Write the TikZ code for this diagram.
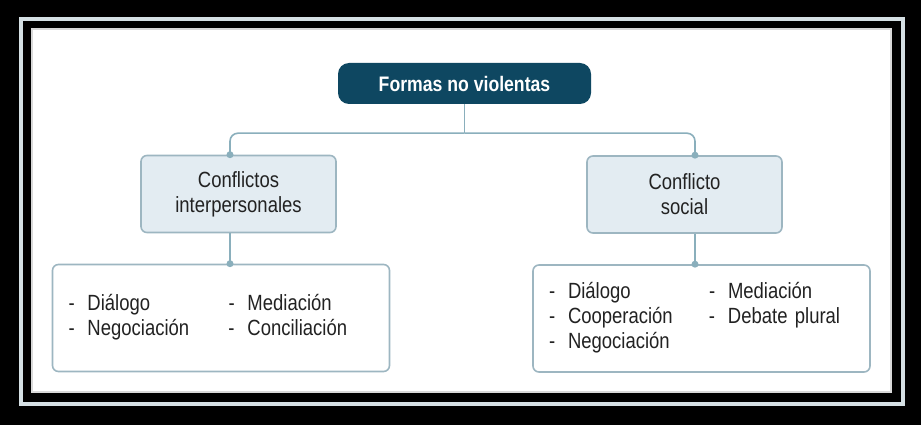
\documentclass[tikz,border=0pt]{standalone}
\usepackage{fontspec}
\setmainfont[FakeStretch=0.84]{Liberation Sans}
\usetikzlibrary{positioning}
\definecolor{tealdark}{HTML}{0E4761}
\definecolor{boxblue}{HTML}{E3ECF2}
\definecolor{boxline}{HTML}{9DB6C1}
\definecolor{linkc}{HTML}{8AAFBC}
\definecolor{txt}{HTML}{222222}
\definecolor{frameline}{HTML}{D5E0E4}
\newcommand{\opt}[1]{\makebox[19pt][l]{-}#1}

\begin{document}
\begin{tikzpicture}[x=1pt,y=-1pt,
  title/.style={fill=tealdark, rounded corners=11pt, minimum width=253pt, minimum height=41pt,
    text=white, font=\fontsize{21}{24}\selectfont\bfseries},
  midbox/.style={draw=boxline, line width=1.6pt, fill=boxblue, rounded corners=6pt,
    minimum width=195pt, minimum height=77pt, align=center, text=txt, font=\fontsize{22}{25}\selectfont},
  listbox/.style={draw=boxline, line width=1.6pt, fill=white, rounded corners=6pt,
    minimum height=107pt, text width=305pt, inner xsep=16pt, align=left, text=txt,
    font=\fontsize{22}{25}\selectfont},
  link/.style={draw=linkc, line width=1.6pt},
  dot/.style={fill=linkc}]
                    \useasboundingbox (0,0) rectangle (921,425);
                    % marco
                    \fill[black] (0,0) rectangle (921,425);
                    \draw[frameline, line width=4pt] (20.5,19.5) rectangle (902.5,404);
                    \fill[white] (31,28) rectangle (892,393);
                    \draw[gray!30, line width=2pt] (32,29) rectangle (891,392);

                    \node[title] (top) at (464.5,83.5) {Formas no violentas};
                    \node[midbox] (lmid) at (238.5,194) {Conflictos\\interpersonales};
                    \node[midbox] (rmid) at (684.5,194.5) {Conflicto\\social};
                    \node[listbox] (lbot) at (221,318) {\begin{tabular}{@{}p{160pt}@{}l@{}}
                        \opt{Diálogo} & \opt{Mediación}\\
                        \opt{Negociación} & \opt{Conciliación}
                      \end{tabular}};
                    \node[listbox] (rbot) at (701.5,318.5) {\begin{tabular}{@{}p{160pt}@{}l@{}}
                        \opt{Diálogo} & \opt{Mediación}\\
                        \opt{Cooperación} & \opt{Debate plural}\\
                        \opt{Negociación} &
                      \end{tabular}};

                    \coordinate (lx) at (230,0);
                    \coordinate (rx) at (695,0);
                    \coordinate (fork) at ([yshift=-29pt]top.south);
                    \draw[link] (top.south) -- (fork);
                    \draw[link, rounded corners=8pt] (fork) -| (lmid.north -| lx);
                    \draw[link, rounded corners=8pt] (fork) -| (rmid.north -| rx);
                    \draw[link] (lmid.south -| lx) -- (lbot.north -| lx);
                    \draw[link] (rmid.south -| rx) -- (rbot.north -| rx);
                    \fill[dot] (lmid.north -| lx) circle (3.5pt);
                    \fill[dot] (rmid.north -| rx) circle (3.5pt);
                    \fill[dot] (lbot.north -| lx) circle (3.5pt);
                    \fill[dot] (rbot.north -| rx) circle (3.5pt);
                \end{tikzpicture}
\end{document}
